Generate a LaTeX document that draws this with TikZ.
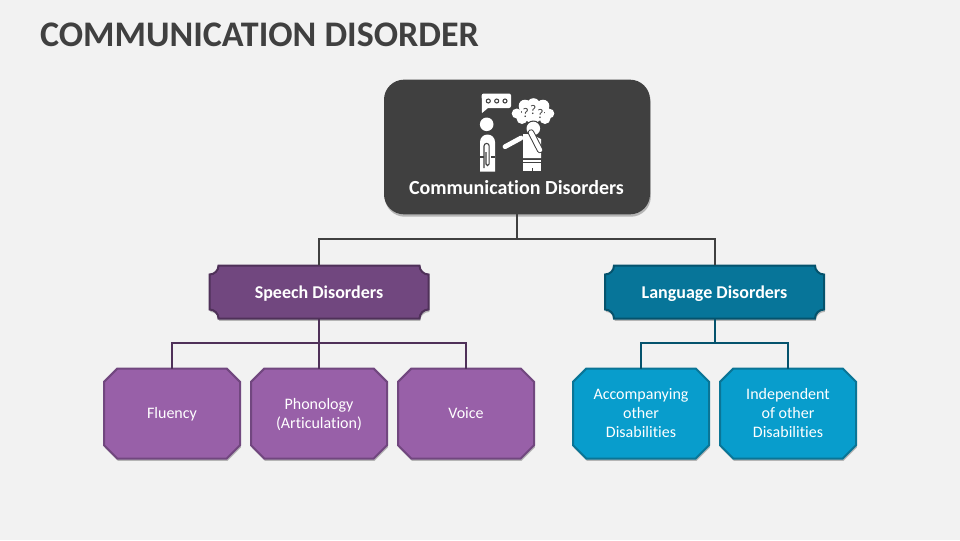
\documentclass[tikz,border=0pt]{standalone}
\usepackage{fontspec}
\setmainfont[Ligatures=NoCommon]{Carlito}
\usetikzlibrary{shapes.misc,shadows}
\definecolor{pagegrey}{HTML}{F2F2F2}
\definecolor{darkgrey}{HTML}{404040}
\definecolor{speechfill}{HTML}{71477F}
\definecolor{speechline}{HTML}{4F3159}
\definecolor{speechsub}{HTML}{9860A8}
\definecolor{langfill}{HTML}{077599}
\definecolor{langline}{HTML}{05536D}
\definecolor{langsub}{HTML}{089DCC}
\definecolor{langsubline}{HTML}{0A7596}
\newcommand{\substrut}{\rule[-3.2pt]{0pt}{14.1pt}}
\newcommand{\headstrut}{\rule[-3.2pt]{0pt}{16pt}}
% centre x, centre y, fill, line
\newcommand{\plaquebox}[4]{
	\begin{scope}[shift={(#1,#2)}]
	\draw [#4, fill=#3, line width=1.5pt, softshadow] (-100.5,26.5) -- (100.5,26.5) arc (180:270:9) -- (109.5,-17.5) arc (90:180:9) -- (-100.5,-26.5) arc (0:90:9) -- (-109.5,17.5) arc (270:360:9) -- cycle;
	\end{scope}
}
\begin{document}
\begin{tikzpicture}[x=0.75pt,y=0.75pt]
	\tikzstyle{every node}+=[inner sep=0pt, outer sep=0pt]
	\tikzstyle{softshadow}=[drop shadow={shadow xshift=0.6pt, shadow yshift=-1.8pt, opacity=0.25, fill=black}]
	\tikzstyle{topbox}=[rectangle, fill=darkgrey, rounded corners=15pt, minimum width=199.5pt, minimum height=101pt, softshadow]
	\tikzstyle{headtext}=[text=white, font=\fontsize{13.5}{17}\selectfont\bfseries, align=center]
	\tikzstyle{subbox}=[chamfered rectangle, chamfered rectangle xsep=5pt, chamfered rectangle ysep=5pt, minimum width=102pt, minimum height=67.5pt, line width=1.5pt, softshadow, text=white, font=\fontsize{12}{14.2}\selectfont, align=center]
	\tikzstyle{speechbox}=[subbox, draw=speechfill, fill=speechsub]
	\tikzstyle{langbox}=[subbox, draw=langsubline, fill=langsub]
	\tikzstyle{speechlink}=[speechline, line width=1.5pt]
	\tikzstyle{langlink}=[langline, line width=1.5pt]
	\tikzstyle{toplink}=[darkgrey, line width=1.5pt]
	\tikzstyle{qmark}=[text=darkgrey, font=\fontsize{10}{10}\selectfont]
	\useasboundingbox [fill=pagegrey] (0,0) rectangle (960,-540);
	% title
	\draw (40,-34.5) node (title) [anchor=west, text=darkgrey, font=\fontsize{27}{32}\selectfont\bfseries] {COMMUNICATION DISORDER};
	% top box
	\draw (517,-147) node (comm) [topbox] {};
	\draw (516.5,-188) node (commlabel) [text=white, font=\fontsize{15}{17}\selectfont\bfseries] {Communication Disorders};
	% icon, left person
	\fill [white] (483.5,-93.5) -- (509,-93.5) arc (90:0:2) -- (511,-106) arc (0:-90:2) -- (488,-108) -- (482,-113) -- (481.7,-95.5) arc (180:90:2) -- cycle;
	\draw [darkgrey, line width=0.8pt] (488.3,-101) circle (2) (496.7,-101) circle (2) (505,-101) circle (2);
	\fill [white] (486.7,-124.3) circle (6.8);
	\fill [white] (480,-142) arc (180:0:7.5) -- (495,-171.5) -- (480,-171.5) -- cycle;
	\draw [darkgrey, line width=0.8pt] (484,-168) -- (484,-146) arc (180:0:2.6) -- (489.2,-164) arc (0:-180:1.6) -- (486,-152);
	\draw [darkgrey, line width=0.8pt] (480,-157) -- (484,-157) (491,-157) -- (495,-157);
	% icon, right person
	\fill [white] (516.7,-113.5) circle (5) (525,-106) circle (6.3) (533.5,-104.5) circle (6.3) (543,-106) circle (6.3) (549.5,-113.5) circle (4.8) (522,-118.5) circle (5.5) (545,-118.5) circle (5.5) (533,-112) circle (11);
	\draw (525.7,-112.5) node (qa) [qmark] {?};
	\draw (533.3,-110) node (qb) [qmark] {?};
	\draw (540.5,-113.5) node (qc) [qmark] {?};
	\fill [darkgrey] (533.3,-128.5) circle (8);
	\fill [white] (533.3,-128.5) circle (6.8);
	\fill [white] (523,-134) -- (531,-134) -- (541,-139) -- (541,-158) -- (523,-158) -- cycle;
	\draw [white, line width=3.6pt, line cap=round] (521,-138) -- (505,-146.7);
	\draw [darkgrey, line width=4.8pt, line cap=round] (531,-132.5) -- (540,-150);
	\draw [white, line width=3.3pt, line cap=round] (531,-132.5) -- (540,-150);
	\fill [white] (523.3,-160) rectangle (540.7,-161.5);
	\fill [white] (523.3,-163) rectangle (540.7,-171);
	\draw [darkgrey, line width=0.7pt] (532,-171) -- (532,-167.5);
	% second level
	\plaquebox{319}{-292}{speechfill}{speechline}
	\draw (319,-292) node (speech) [minimum width=165pt, minimum height=40.5pt, headtext] {Speech Disorders\headstrut};
	\plaquebox{714.5}{-292}{langfill}{langline}
	\draw (714.5,-292) node (lang) [minimum width=165pt, minimum height=40.5pt, headtext] {Language Disorders\headstrut};
	% third level
	\draw (172,-413.5) node (fluency) [speechbox] {Fluency\substrut};
	\draw (319,-413.5) node (phonology) [speechbox] {Phonology\substrut\\(Articulation)\substrut};
	\draw (466,-413.5) node (voice) [speechbox] {Voice\substrut};
	\draw (641,-413.5) node (accomp) [langbox] {Accompanying\substrut\\other\substrut\\Disabilities\substrut};
	\draw (788,-413.5) node (indep) [langbox] {Independent\substrut\\of other\substrut\\Disabilities\substrut};
	% connectors
	\coordinate (topbus) at (517,-239);
	\coordinate (speechbus) at (319,-343);
	\coordinate (langbus) at (715,-343);
	\draw [toplink] (comm.south) -- (topbus);
	\draw [toplink] (speech.north) -- (speech.north |- topbus) -- (lang.north |- topbus) -- (lang.north);
	\draw [speechlink] (speech.south) -- (phonology.north);
	\draw [speechlink] (fluency.north) -- (fluency.north |- speechbus) -- (voice.north |- speechbus) -- (voice.north);
	\draw [langlink] (lang.south) -- (lang.south |- langbus);
	\draw [langlink] (accomp.north) -- (accomp.north |- langbus) -- (indep.north |- langbus) -- (indep.north);
\end{tikzpicture}
\end{document}
